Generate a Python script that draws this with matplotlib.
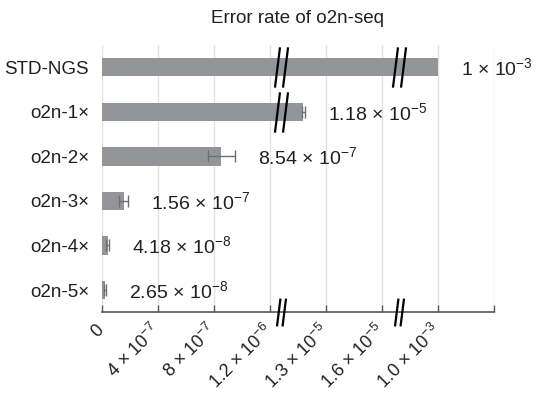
import matplotlib
matplotlib.use('Agg')
import matplotlib.pyplot as plt
import numpy as np
from matplotlib.path import Path

plt.rcParams['font.family'] = 'Liberation Sans'
plt.rcParams['mathtext.fontset'] = 'custom'
plt.rcParams['mathtext.rm'] = 'Liberation Sans'
plt.rcParams['mathtext.it'] = 'Liberation Sans:italic'
plt.rcParams['mathtext.bf'] = 'Liberation Sans:bold'
plt.rcParams['text.color'] = '#231f20'
plt.rcParams['xtick.color'] = '#231f20'
plt.rcParams['ytick.color'] = '#231f20'

# data
categories = ['STD-NGS', 'o2n-1×', 'o2n-2×', 'o2n-3×', 'o2n-4×', 'o2n-5×']
rates = [1.0e-3, 1.18e-5, 8.54e-7, 1.56e-7, 4.18e-8, 2.65e-8]
errs = [0, 8e-8, 9.6e-8, 3.2e-8, 9e-9, 7e-9]
rate_labels = ['1 × 10$^{-3}$', '1.18 × 10$^{-5}$', '8.54 × 10$^{-7}$',
               '1.56 × 10$^{-7}$', '4.18 × 10$^{-8}$', '2.65 × 10$^{-8}$']
tick_values = [0, 4e-7, 8e-7, 1.2e-6, 1.3e-5, 1.6e-5, 1.0e-3, 1.1e-3]
tick_labels = ['0', '4 × 10$^{-7}$', '8 × 10$^{-7}$', '1.2 × 10$^{-6}$',
               '1.3 × 10$^{-5}$', '1.6 × 10$^{-5}$', '1.0 × 10$^{-3}$', '']

# broken axis: (value, step, value per step) for each piece, breaks in steps
pieces = [(0.0, 0, 4e-7), (1.3e-5, 4, 3e-6), (1.0e-3, 6, 1e-4)]
breaks = [3.2, 5.3]
nsteps = 7

xp = [0.0]
fp = [0.0]
for i, b in enumerate(breaks):
    v0, p0, s0 = pieces[i]
    v1, p1, s1 = pieces[i + 1]
    xp += [v0 + (b - p0) * s0, v1 + (b - p1) * s1]
    fp += [b, b + 1e-6]
v, p, s = pieces[-1]
xp.append(v + (nsteps - p) * s)
fp.append(nsteps)

def fwd(x):
    return np.interp(x, xp, fp)

def inv(y):
    return np.interp(y, fp, xp)

bar_col = '#939598'
line_col = '#58595b'

fig = plt.figure(figsize=(5.5, 4.05), dpi=100)
fig.subplots_adjust(left=0.1849, right=0.8982, bottom=0.2289, top=0.8889)
ax = fig.add_subplot(111)
ax.set_xscale('function', functions=(fwd, inv))

y = np.arange(len(categories))
ax.barh(y, rates, height=0.41, color=bar_col, zorder=2)
errs = np.array(errs)
has = errs > 0
ax.errorbar(np.array(rates)[has], y[has], xerr=errs[has], fmt='none',
            ecolor='#6d6e71', elinewidth=1, capsize=4.3, capthick=1, zorder=3)

for yi, r, e, lab in zip(y, rates, errs, rate_labels):
    ax.annotate(lab, xy=(r + e, yi), xytext=(23, -1), textcoords='offset pixels',
                ha='left', va='center', fontsize=14)

# break marks
slash = Path([(-0.325, -1), (-0.075, 1), (0.075, -1), (0.325, 1)],
             [Path.MOVETO, Path.LINETO, Path.MOVETO, Path.LINETO])
for b in breaks:
    xb = inv(b)
    for yi, r in zip(y, rates):
        if fwd(r) > b:
            ax.plot([xb], [yi], marker=slash, ms=29, mfc='none', mec='k',
                    mew=1.6, ls='none', zorder=5)
    ax.plot([xb], [0], transform=ax.get_xaxis_transform(), marker=slash, ms=20,
            mfc='none', mec='k', mew=1.6, ls='none', zorder=5, clip_on=False)

ax.set_xlim(0, xp[-1])
ax.set_ylim(len(categories) - 0.5, -0.5)
ax.set_xticks(tick_values)
ax.set_xticklabels(tick_labels, rotation=45, ha='right', va='center',
                   rotation_mode='anchor', fontsize=13)
ax.minorticks_off()
ax.set_yticks(y)
ax.set_yticklabels(categories, fontsize=13.5)

ax.xaxis.grid(True, color='#e2e2e2', lw=1)
ax.set_axisbelow(True)
for side in ['left', 'top', 'right']:
    ax.spines[side].set_visible(False)
ax.spines['bottom'].set_color(line_col)
ax.spines['bottom'].set_linewidth(1.2)
ax.tick_params(axis='x', direction='in', length=5, width=1, color=line_col, pad=11)
ax.tick_params(axis='y', length=0, pad=9)

ax.set_title('Error rate of o2n-seq', fontsize=13.5, pad=16)

plt.savefig('out.png', dpi=100)
